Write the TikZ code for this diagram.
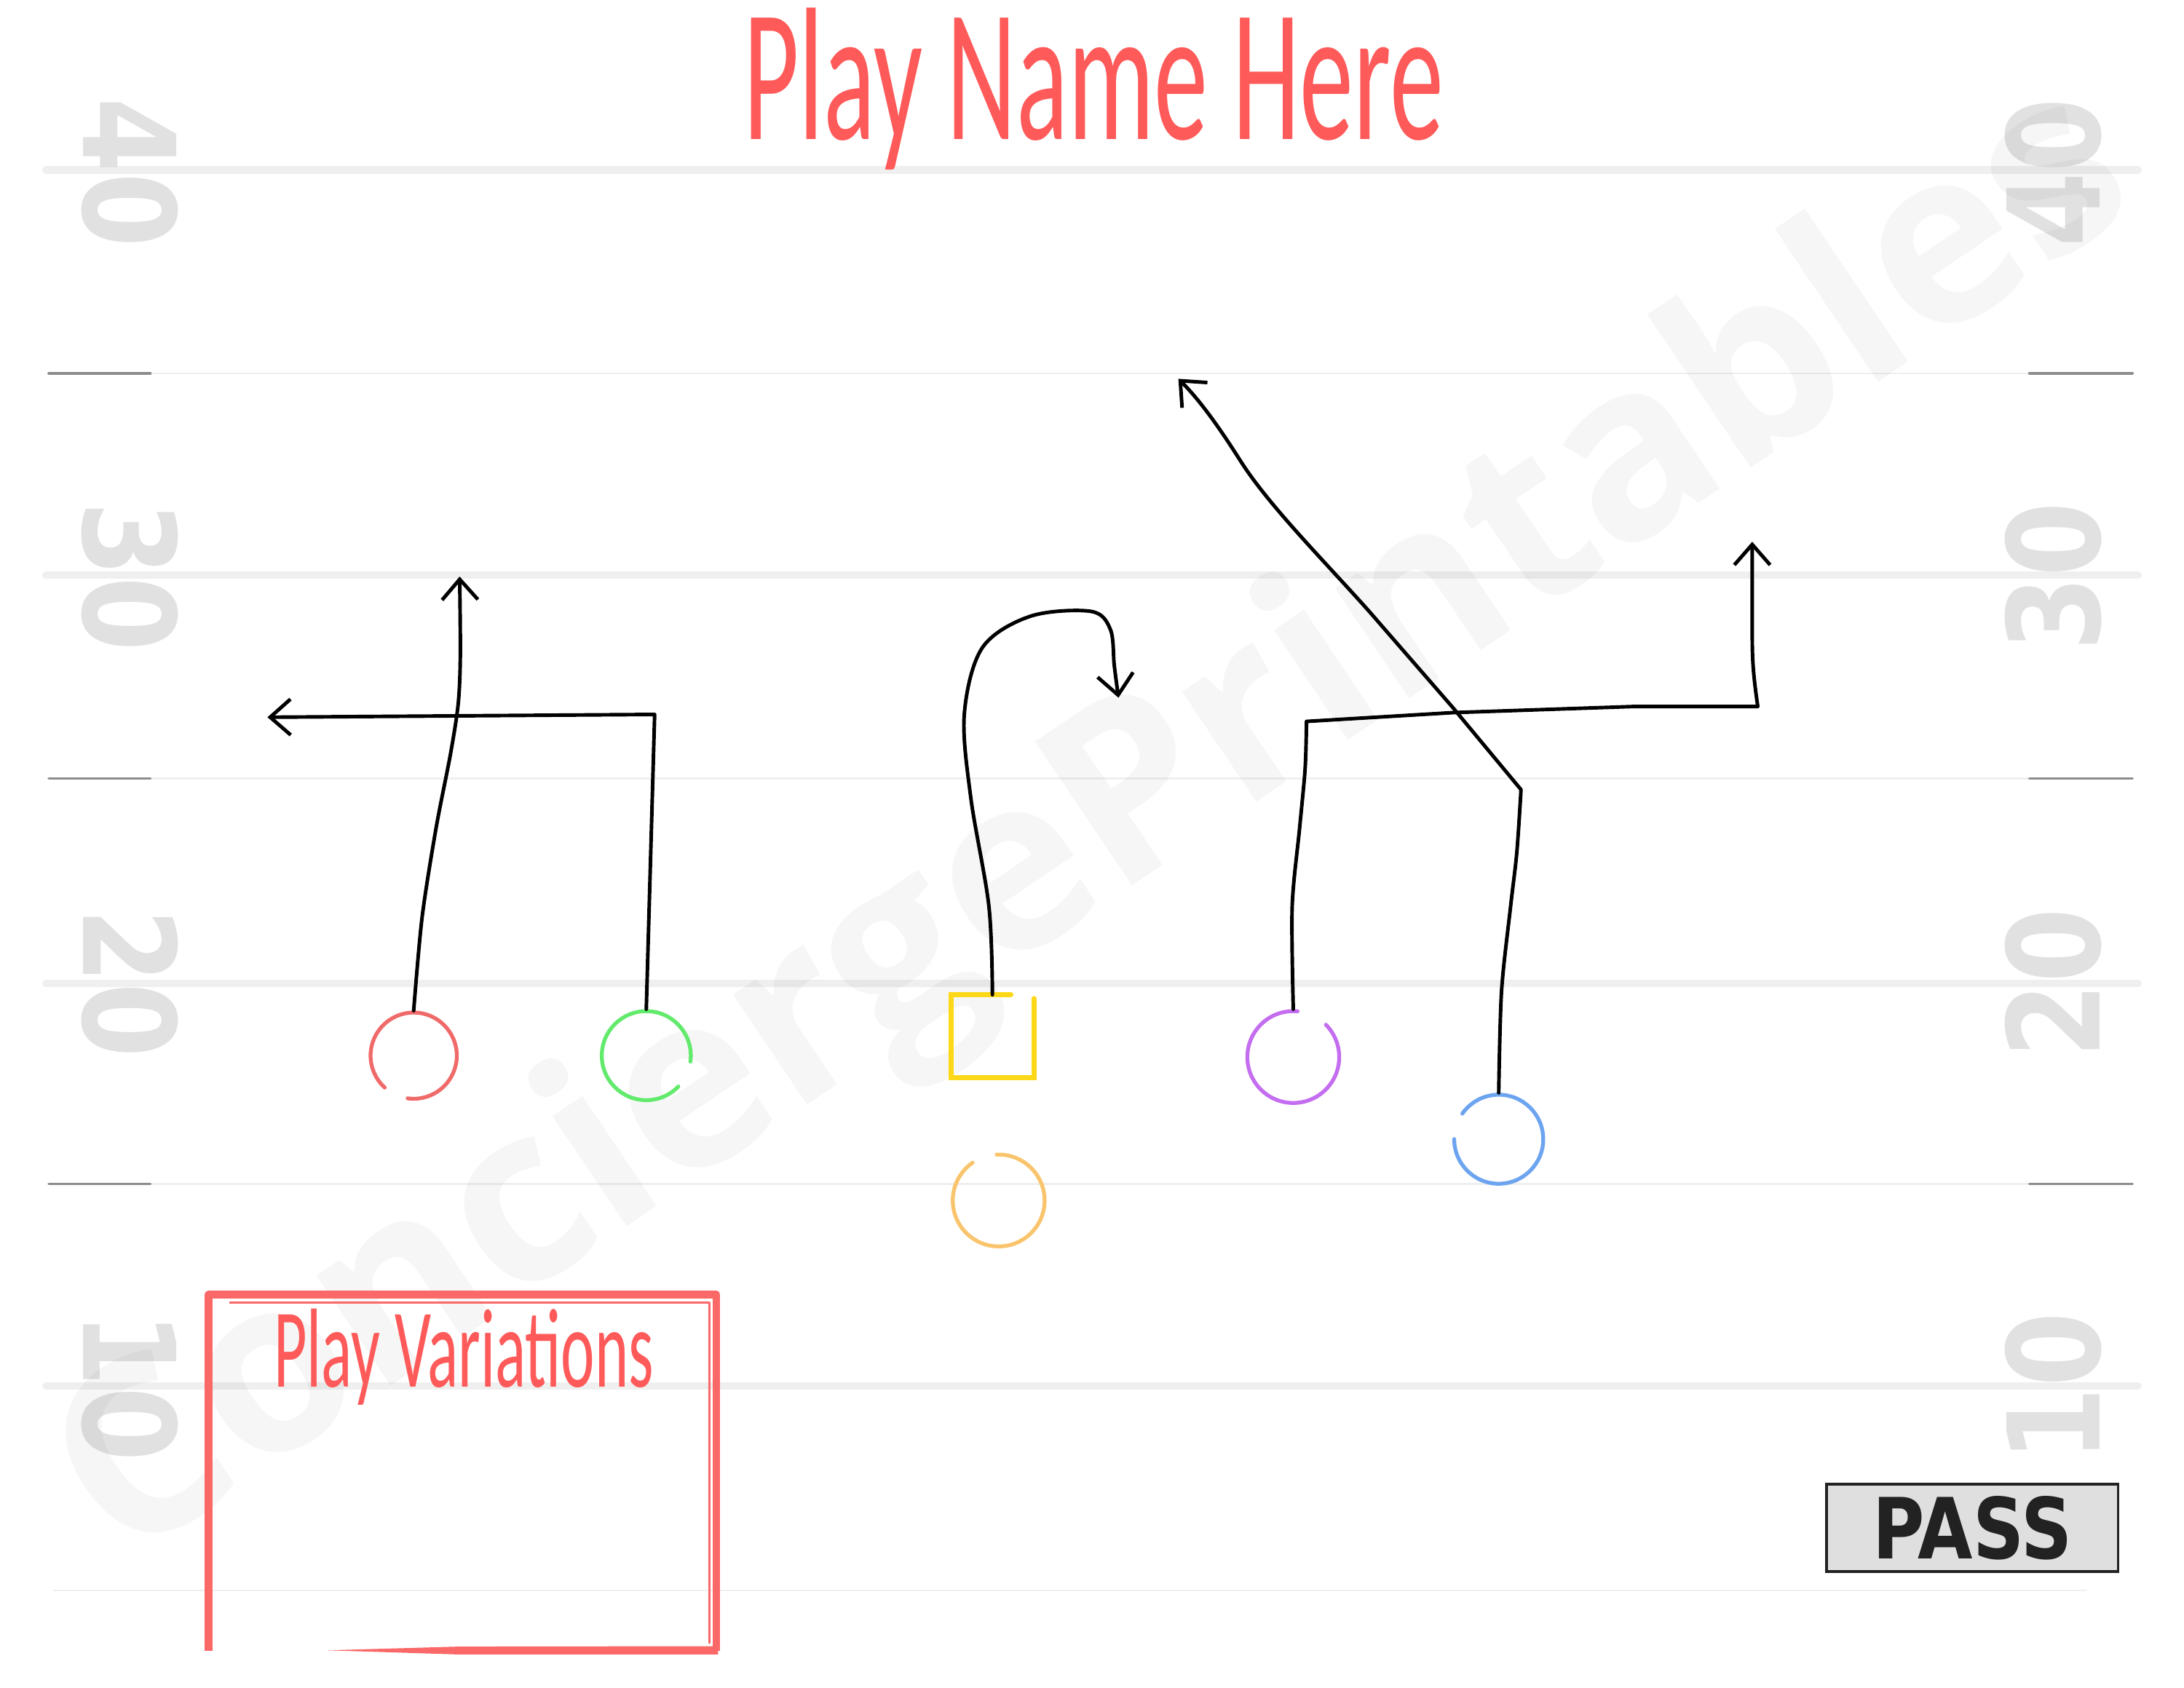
\documentclass[tikz,border=0pt]{standalone}
\usepackage{fontspec}
\usepackage{tikz}
\usetikzlibrary{arrows.meta}
\newfontfamily\handfont{Carlito}[FakeStretch=0.57]
\newfontfamily\blockfont{DejaVu Sans}[FakeStretch=0.84]
\newfontfamily\markfont{Open Sans}
\definecolor{titlered}{HTML}{FF5A5A}
\definecolor{boxred}{HTML}{FA6868}
\definecolor{linegray}{HTML}{EFEFEF}
\definecolor{tickgray}{HTML}{8C8C8C}
\definecolor{numgray}{HTML}{E1E1E1}
\definecolor{passgray}{HTML}{DFDFDF}
\definecolor{passdark}{HTML}{222222}
\definecolor{wrred}{HTML}{F06A6A}
\definecolor{wrgreen}{HTML}{62EA6C}
\definecolor{cyellow}{HTML}{FDD819}
\definecolor{qborange}{HTML}{F9C46C}
\definecolor{tepurple}{HTML}{C46DF0}
\definecolor{rbblue}{HTML}{6DA4F0}
\tikzstyle{yardline} = [draw=linegray, line width=2.9pt, line cap=round]
\tikzstyle{hashline} = [draw=linegray, line width=0.7pt]
\tikzstyle{hashtick} = [draw=tickgray, line width=1pt, line cap=round]
\tikzstyle{yardnum} = [text=numgray, inner sep=0pt, font=\blockfont\bfseries\fontsize{50}{50}\selectfont]
\tikzstyle{player} = [circle, draw, line width=1.5pt, line cap=round, inner sep=0pt]
\tikzstyle{route} = [draw=black, line width=1.4pt, line cap=round, line join=round,
    -{Straight Barb[length=8pt, width=14pt]}]
\tikzstyle{playtitle} = [text=titlered, inner sep=0pt, anchor=base,
    font=\handfont\fontsize{74}{74}\selectfont]
\tikzstyle{vartitle} = [text=titlered, inner sep=0pt, anchor=base,
    font=\handfont\fontsize{44}{44}\selectfont]
\tikzstyle{varbox} = [rectangle, inner sep=0pt, minimum width=198pt, minimum height=139pt]
\tikzstyle{boxline} = [draw=boxred, line width=3pt, line join=round]
\tikzstyle{passbox} = [rectangle, fill=passgray, draw=passdark, line width=1.1pt, inner sep=0pt,
    minimum width=114pt, minimum height=34pt, text=passdark,
    font=\blockfont\bfseries\fontsize{33}{33}\selectfont]
\tikzstyle{watermark} = [text=black, text opacity=0.035, inner sep=0pt, rotate=34,
    font=\markfont\bfseries\fontsize{95}{95}\selectfont]

\begin{document}
\begin{tikzpicture}[x=0.019133cm, y=-0.019133cm]
                \useasboundingbox (0,0) rectangle (1568,1212);
                \fill[white] (0,0) rectangle (1568,1212);
                % field
                \foreach \y in {122,413,706,995}
                    \draw[yardline] (33,\y) -- (1535,\y);
                \foreach \y in {268,559,850} {
                    \draw[hashline] (35,\y) -- (1531,\y);
                    \draw[hashtick] (35,\y) -- (108,\y);
                    \draw[hashtick] (1457,\y) -- (1531,\y);
                }
                \draw[hashline] (38,1142) -- (1498,1142);
                \foreach \n/\y in {40/124,30/414,20/706,10/996} {
                    \node[yardnum, rotate=-90] (left\n) at (93.5,\y) {\n};
                    \node[yardnum, rotate=90] (right\n) at (1474,\y) {\n};
                }
                \node[watermark] (mark) at (788,598) {ConciergePrintables};
                % title
                \node[playtitle] (title) at (785,100) {Play Name Here};
                % players
                \node[player, draw=wrred, minimum size=33.7pt,
                    dash pattern=on 67pt off 10pt on 120pt] (wrleft) at (297,758) {};
                \node[player, draw=wrgreen, minimum size=34.8pt,
                    dash pattern=on 96pt off 11pt on 120pt] (wrslot) at (464,758) {};
                \node[rectangle, inner sep=0pt, minimum size=32pt] (ctr) at (712.5,744) {};
                \draw[draw=cyellow, line width=2pt, line cap=round]
                    ([xshift=-9pt]ctr.north east) -- (ctr.north west) -- (ctr.south west)
                    -- (ctr.south east) -- ([yshift=-1.5pt]ctr.north east);
                \node[player, draw=qborange, minimum size=35.9pt,
                    dash pattern=on 29pt off 10pt on 120pt] (qb) at (717,862) {};
                \node[player, draw=tepurple, minimum size=35.9pt,
                    dash pattern=on 14pt off 12.5pt on 120pt] (te) at (928.5,759) {};
                \node[player, draw=rbblue, minimum size=34.8pt,
                    dash pattern=on 44pt off 10.6pt on 120pt] (rb) at (1076,818) {};
                % routes
                \coordinate (redend) at (330,414);
                \coordinate (grnend) at (192,515);
                \coordinate (ctrend) at (803,501);
                \coordinate (purend) at (1258,389);
                \coordinate (bluend) at (846,272);
                \draw[route] plot[smooth, tension=0.5] coordinates {(wrleft.north) (303,659) (313,595)
                    (323.5,541) (329,505) (330.5,470) (redend)};
                \draw[route] (wrslot.north) -- (470,513) -- (grnend);
                \draw[route] plot[smooth, tension=0.55] coordinates {(ctr.north) (710,651) (697,573)
                    (692.3,513) (705.3,465) (740,442.4) (783.3,439) (797.2,452) (800,478) (ctrend)};
                \draw[route] plot[smooth, tension=0.5] coordinates {(te.north) (927.7,651) (933,595)
                    (937,552) (938,518)} -- (1043,511.7) -- (1173,507.3) -- (1262,507.3)
                    .. controls (1258,480) and (1258,470) .. (1258,450) -- (purend);
                \draw[route] plot[smooth, tension=0.5] coordinates {(rb.north) (1078,712) (1084.5,651)
                    (1089,612) (1092,567)} -- (1043,508) -- (983,439)
                    .. controls (950,402) and (910,362) .. (890,330)
                    .. controls (876,308) and (862,288) .. (bluend);
                % play variations
                \node[varbox] (vbox) at (332,1057.5) {};
                \draw[boxline] (vbox.south west) -- (vbox.north west) -- (vbox.north east) -- (vbox.south east);
                \draw[boxline, line width=0.8pt] ([xshift=8pt,yshift=-3.2pt]vbox.north west)
                    -- ([xshift=-2.6pt,yshift=-3.2pt]vbox.north east) -- ([xshift=-2.6pt,yshift=3pt]vbox.south east);
                \fill[boxred] (235,1185) -- (330,1182.3) -- (515.5,1182) -- (515.5,1188) -- (330,1188) -- cycle;
                \node[vartitle] (vtitle) at (333,996) {Play Variations};
                % pass tag
                \node[passbox] (pass) at (1416,1097) {PASS};
            \end{tikzpicture}
\end{document}
